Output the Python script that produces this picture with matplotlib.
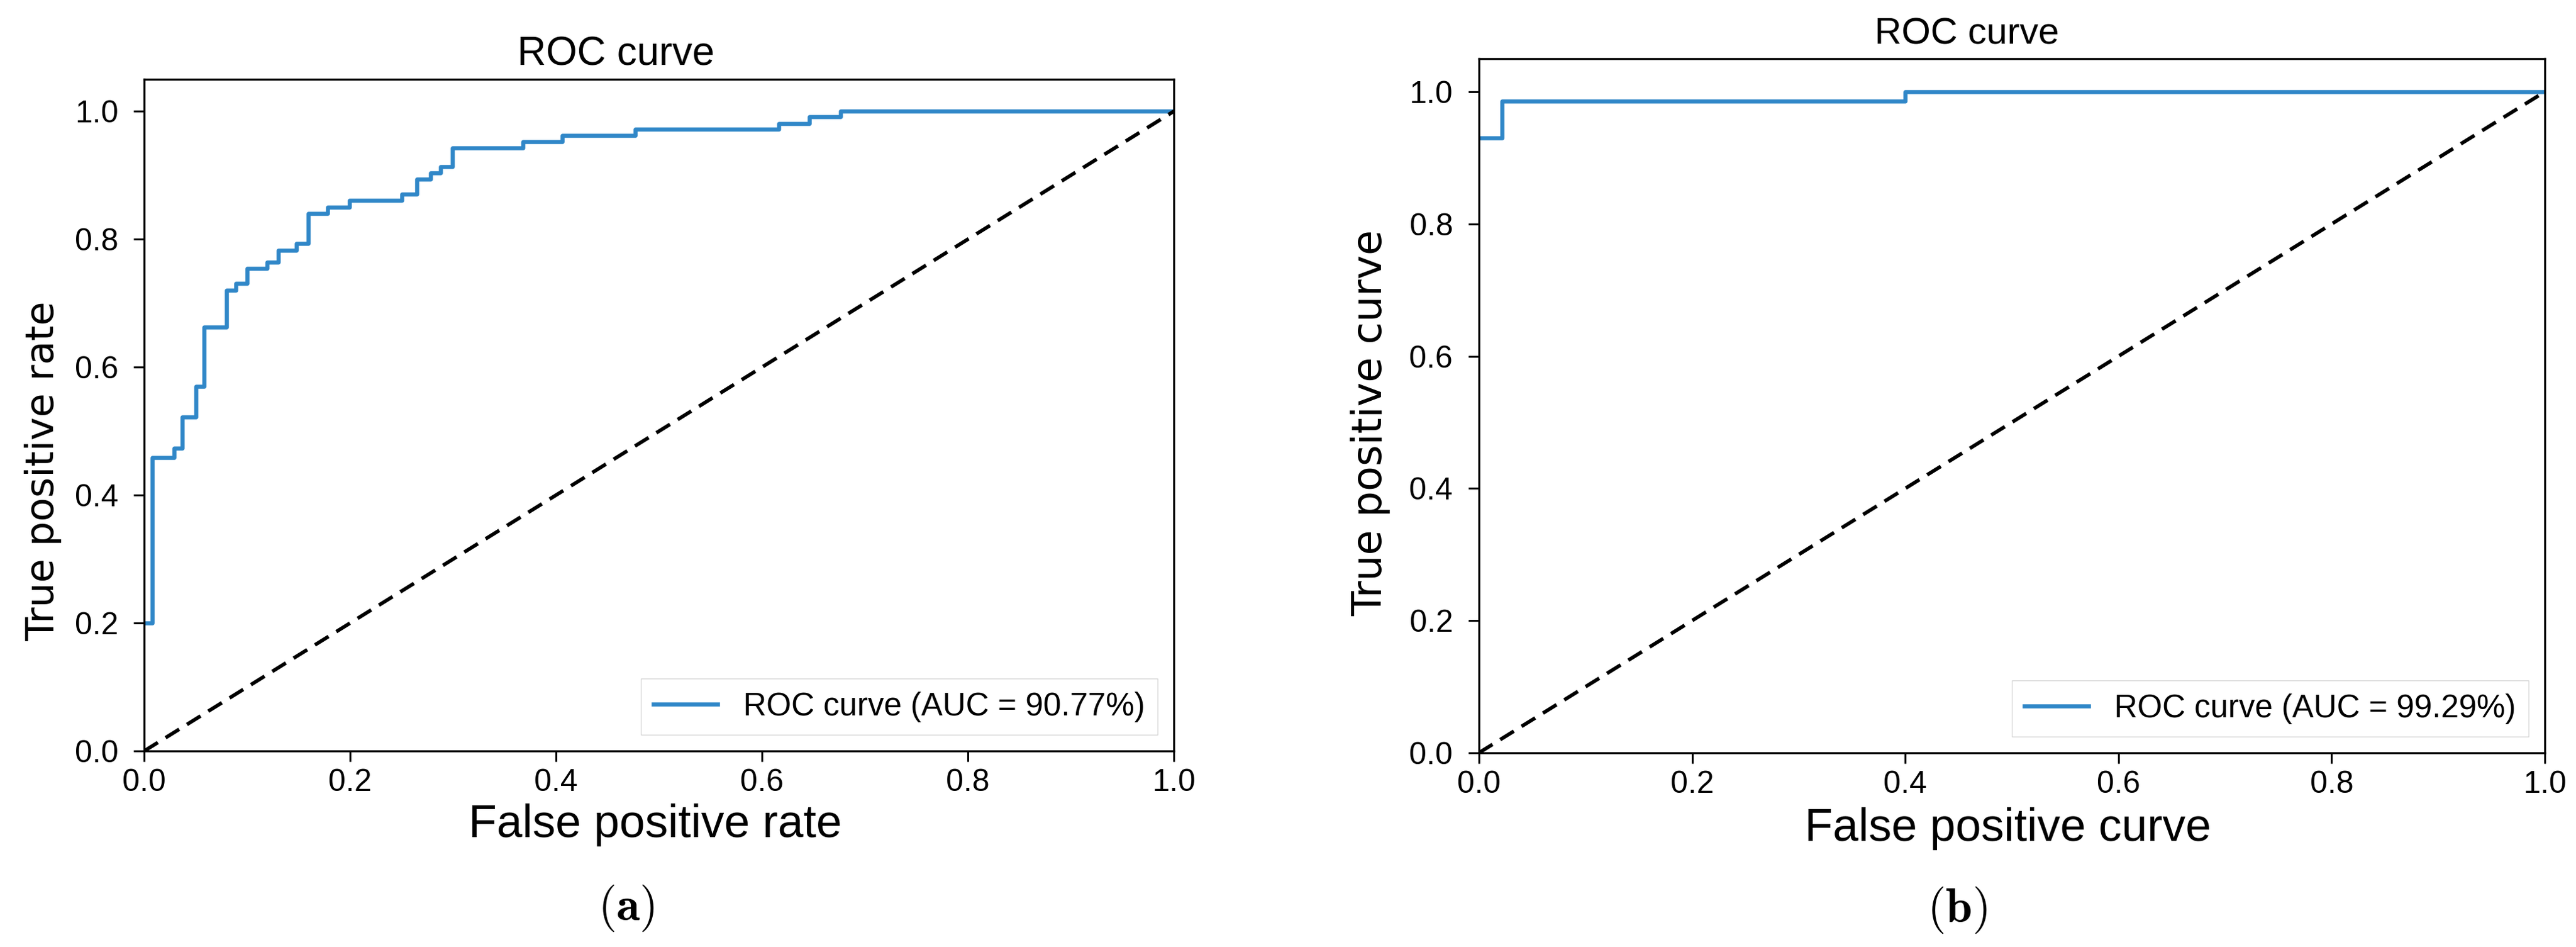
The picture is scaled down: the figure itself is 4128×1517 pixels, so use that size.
import matplotlib
matplotlib.use("Agg")
import matplotlib.pyplot as plt

plt.rcParams['mathtext.fontset'] = 'cm'

# ROC data (step points, post)
fpr_a = [0.0, 0.008, 0.029, 0.037, 0.050, 0.058, 0.080, 0.089, 0.100,
         0.119, 0.130, 0.148, 0.159, 0.178, 0.199, 0.250, 0.265, 0.278, 0.288,
         0.299, 0.368, 0.406, 0.477, 0.616, 0.646, 0.676, 1.0]
tpr_a = [0.200, 0.459, 0.473, 0.522, 0.570, 0.663, 0.720, 0.731, 0.754,
         0.764, 0.783, 0.793, 0.840, 0.850, 0.861, 0.870, 0.894, 0.904, 0.913,
         0.943, 0.952, 0.962, 0.972, 0.981, 0.991, 1.0, 1.0]
auc_a = 90.77

fpr_b = [0.0, 0.022, 0.40, 1.0]
tpr_b = [0.930, 0.986, 1.0, 1.0]
auc_b = 99.29

ticks = [0.0, 0.2, 0.4, 0.6, 0.8, 1.0]
tick_labels = ['0.0', '0.2', '0.4', '0.6', '0.8', '1.0']

BLUE = '#3087c8'
FONT = 'Liberation Sans'


def roc_panel(ax, fpr, tpr, auc, xlabel, ylabel, title, title_size, title_pad,
              ylabel_x, ylabel_y, ylabel_size):
    ax.step(fpr, tpr, where='post', color=BLUE, lw=4.7,
            label='ROC curve (AUC = %.2f%%)' % auc)
    ax.plot([0, 1], [0, 1], color='k', ls='--', dashes=(4.4, 2.5), lw=4.2)

    ax.set_xlim(0, 1)
    ax.set_ylim(0, 1.05)
    ax.set_xticks(ticks)
    ax.set_yticks(ticks)
    ax.set_xticklabels(tick_labels, fontfamily=FONT, fontsize=36)
    ax.set_yticklabels(tick_labels, fontfamily=FONT, fontsize=36)
    ax.tick_params(axis='x', length=12, width=2.2, pad=8)
    ax.tick_params(axis='y', length=12, width=2.2, pad=18)
    for s in ax.spines.values():
        s.set_linewidth(2.4)

    ax.set_title(title, fontfamily=FONT, fontsize=title_size,
                 pad=title_pad, x=0.458)
    ax.set_xlabel(xlabel, fontfamily=FONT, fontsize=53)
    ax.xaxis.set_label_coords(0.496, -0.078)
    ax.set_ylabel(ylabel, fontfamily='DejaVu Sans', fontsize=ylabel_size)
    ax.yaxis.set_label_coords(ylabel_x, ylabel_y)

    ax.legend(loc='lower right', prop={'family': FONT, 'size': 37},
              fancybox=False, edgecolor='0.8', handlelength=2.0)


fig = plt.figure(figsize=(41.28, 15.17), dpi=100)
ax1 = fig.add_axes([0.0560, 0.2070, 0.3997, 0.7093])
ax2 = fig.add_axes([0.5741, 0.2050, 0.4138, 0.7330])

roc_panel(ax1, fpr_a, tpr_a, auc_a, 'False positive rate', 'True positive rate',
          'ROC curve', 46, 16, -0.080, 0.417, 45)
roc_panel(ax2, fpr_b, tpr_b, auc_b, 'False positive curve', 'True positive curve',
          'ROC curve', 43, 17, -0.083, 0.475, 47)

# sub-figure captions
fig.text(1004 / 4128, 1 - 1455 / 1517, r'$(\mathbf{a})$', fontsize=55,
         ha='center', va='center')
fig.text(3136 / 4128, 1 - 1458 / 1517, r'$(\mathbf{b})$', fontsize=55,
         ha='center', va='center')

fig.savefig('out.png', dpi=100)
